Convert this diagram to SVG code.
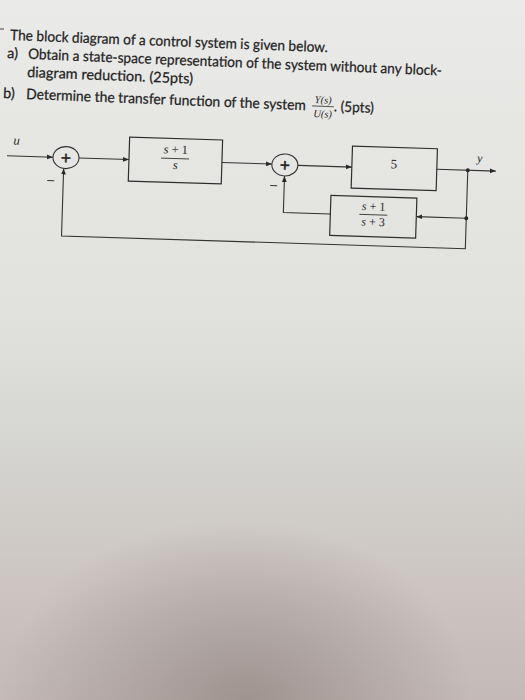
<svg xmlns="http://www.w3.org/2000/svg" width="525" height="700" viewBox="0 0 525 700">
<style>
.q{font-family:Lato,"Open Sans","Liberation Sans",sans-serif;font-size:14.5px;fill:#232323;stroke:#232323;stroke-width:0.25}
.m{font-family:"Liberation Serif","DejaVu Serif",serif;fill:#2a2a2a}
.i{font-style:italic}
.p{font-family:"Liberation Sans",Arial,sans-serif;font-size:17px;fill:#222;stroke:#222;stroke-width:0.5}
.ln{fill:none;stroke:#333;stroke-width:1.1}
.blk{fill:none;stroke:#2e2e2e;stroke-width:1.2}
.sum{fill:none;stroke:#333;stroke-width:1.1}
.dot{fill:#2a2a2a}
</style>
<defs>
<linearGradient id="bg" x1="0" y1="0" x2="0" y2="1">
<stop offset="0" stop-color="#eaeae8"/>
<stop offset="0.45" stop-color="#e1e1de"/>
<stop offset="0.62" stop-color="#d6d6d2"/>
<stop offset="1" stop-color="#c4b9b6"/>
</linearGradient>
<radialGradient id="sh" cx="0.45" cy="1" r="0.45" fx="0.47" fy="1">
<stop offset="0" stop-color="#968a86" stop-opacity="0.8"/>
<stop offset="1" stop-color="#968a86" stop-opacity="0"/>
</radialGradient>
<marker id="ah" viewBox="0 0 6 6" refX="6" refY="3" markerWidth="6" markerHeight="6" markerUnits="userSpaceOnUse" orient="auto">
<path d="M0,0.6 L6,3 L0,5.4 Z" fill="#2a2a2a"/>
</marker>
</defs>
<rect width="525" height="700" fill="url(#bg)"/>
<rect y="300" width="525" height="400" fill="url(#sh)"/>

<g id="question">
<line x1="0" y1="29" x2="4" y2="29" stroke="#444" stroke-width="1"/>
<text class="q" x="10" y="40" transform="rotate(2.2 10 40)" textLength="318" lengthAdjust="spacingAndGlyphs">The block diagram of a control system is given below.</text>
<text class="q" x="7" y="58" transform="rotate(2.3 7 58)">a)</text>
<text class="q" x="28" y="58" transform="rotate(2.3 7 58)" textLength="414" lengthAdjust="spacingAndGlyphs">Obtain a state-space representation of the system without any block-</text>
<text class="q" x="27" y="77" transform="rotate(2.3 27 77)" textLength="166" lengthAdjust="spacingAndGlyphs">diagram reduction. (25pts)</text>
<g transform="rotate(2.3 3 98)">
<text class="q" x="3" y="98">b)</text>
<text class="q" x="26" y="98" textLength="280" lengthAdjust="spacingAndGlyphs">Determine the transfer function of the system</text>
<text class="m i" x="323" y="90.5" font-size="10.5" text-anchor="middle">Y(s)</text>
<line x1="312" y1="93.5" x2="334" y2="93.5" stroke="#333" stroke-width="0.8"/>
<text class="m i" x="323" y="104.5" font-size="10.5" text-anchor="middle">U(s)</text>
<text class="q" x="334" y="98" textLength="40" lengthAdjust="spacingAndGlyphs">. (5pts)</text>
</g>
</g>

<g transform="rotate(1.8 63 157)">
<g id="labels">
<text class="m i" x="13" y="146" font-size="13">u</text>
<text class="m i" x="477" y="149" font-size="12">y</text>
</g>
<g id="sum1">
<ellipse class="sum" cx="66" cy="157.5" rx="13" ry="11"/>
<text class="p" x="66" y="163.5" text-anchor="middle">+</text>
<line x1="48" y1="181" x2="55" y2="181" stroke="#333" stroke-width="1.2"/>
</g>
<g id="block1">
<rect class="blk" x="129" y="135" width="93" height="44"/>
<text class="m" x="175.5" y="150" font-size="12.5" text-anchor="middle"><tspan class="i">s</tspan> + 1</text>
<line x1="161" y1="155" x2="189" y2="155" stroke="#333" stroke-width="0.9"/>
<text class="m i" x="175.5" y="165.5" font-size="12.5" text-anchor="middle">s</text>
</g>
<g id="sum2">
<ellipse class="sum" cx="285" cy="158" rx="13" ry="11"/>
<text class="p" x="285" y="164" text-anchor="middle">+</text>
<line x1="271" y1="179" x2="278" y2="179" stroke="#333" stroke-width="1.2"/>
</g>
<g id="block5">
<rect class="blk" x="352" y="137" width="85" height="42" stroke="#4a4a4a"/>
<text class="m" x="394" y="158" font-size="13" text-anchor="middle">5</text>
</g>
<g id="feedback">
<rect class="blk" x="332" y="187" width="86" height="40" stroke-width="1.8"/>
<text class="m" x="375" y="200.5" font-size="12" text-anchor="middle"><tspan class="i">s</tspan> + 1</text>
<line x1="361" y1="205" x2="389" y2="205" stroke="#333" stroke-width="0.9"/>
<text class="m" x="375" y="216" font-size="12" text-anchor="middle"><tspan class="i">s</tspan> + 3</text>
</g>
<g id="connectors">
<line class="ln" x1="7" y1="157.5" x2="53" y2="157.5" marker-end="url(#ah)"/>
<line class="ln" x1="79" y1="157.5" x2="129" y2="157.5" marker-end="url(#ah)"/>
<line class="ln" x1="222" y1="157.5" x2="272" y2="157.5" marker-end="url(#ah)"/>
<line class="ln" x1="298" y1="158" x2="352" y2="158" marker-end="url(#ah)"/>
<line class="ln" x1="437" y1="157.5" x2="496" y2="157.5" marker-end="url(#ah)"/>
<polyline class="ln" points="468,157.5 468,236 64,236 64,168.5" marker-end="url(#ah)"/>
<line class="ln" x1="468" y1="205.5" x2="418" y2="205.5" marker-end="url(#ah)"/>
<polyline class="ln" points="332,205.5 285,205.5 285,169" marker-end="url(#ah)"/>
<circle class="dot" cx="468" cy="157.5" r="2"/>
<circle class="dot" cx="468" cy="205.5" r="2"/>
</g>
</g>
</svg>
